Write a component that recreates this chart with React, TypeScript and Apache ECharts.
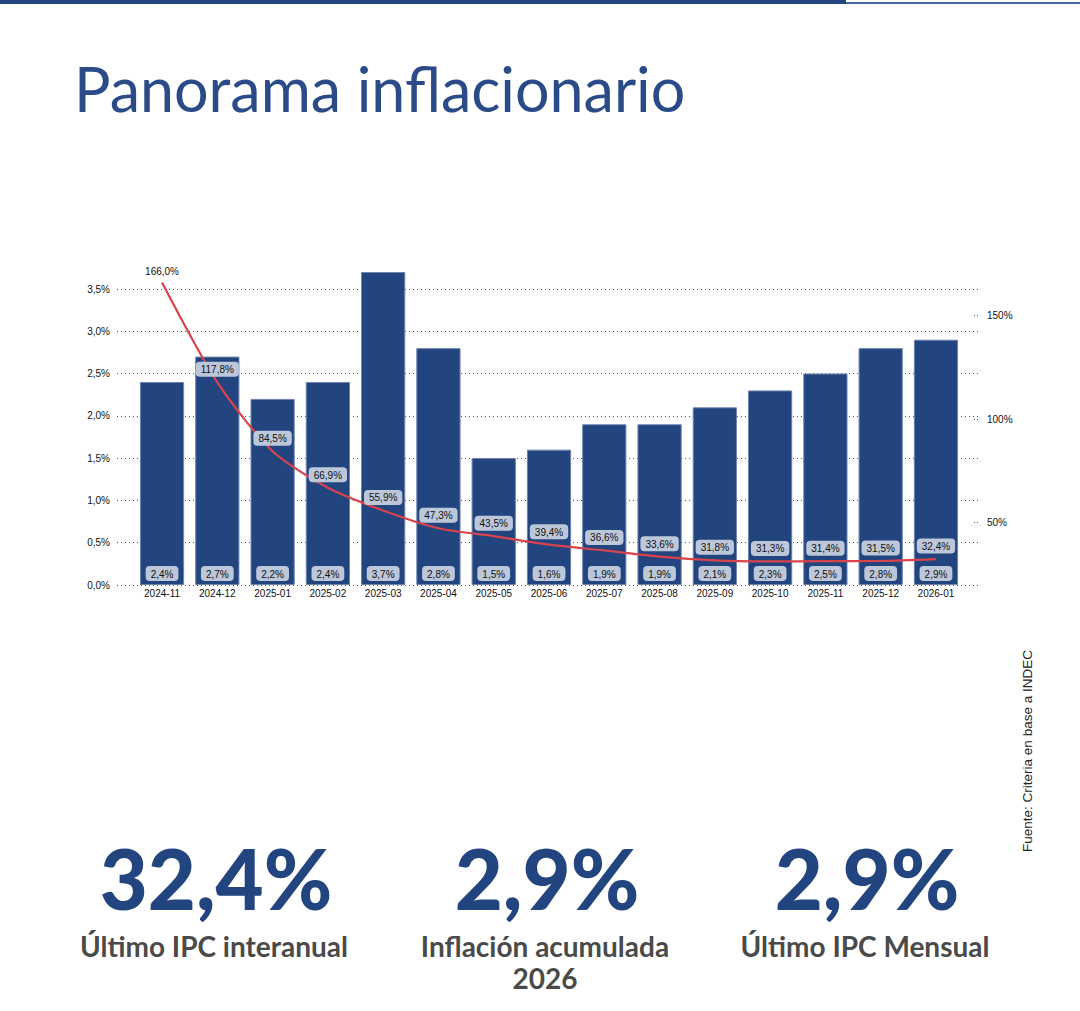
import React, { useEffect, useRef } from "react";
import * as echarts from "echarts";

const months = ["2024-11", "2024-12", "2025-01", "2025-02", "2025-03", "2025-04", "2025-05", "2025-06", "2025-07", "2025-08", "2025-09", "2025-10", "2025-11", "2025-12", "2026-01"];
const monthly = [2.4, 2.7, 2.2, 2.4, 3.7, 2.8, 1.5, 1.6, 1.9, 1.9, 2.1, 2.3, 2.5, 2.8, 2.9];
const interanual = [166.0, 117.8, 84.5, 66.9, 55.9, 47.3, 43.5, 39.4, 36.6, 33.6, 31.8, 31.3, 31.4, 31.5, 32.4];
const rightTicks = [50, 100, 150];
const kpiValues = ["32,4%", "2,9%", "2,9%"];
const kpiLabels = ["Último IPC interanual", "Inflación acumulada\n2026", "Último IPC Mensual"];

const fmt = (v: number) => v.toFixed(1).replace(".", ",") + "%";
const BLUE = "#22447f";
const CHART_FONT = "'Liberation Sans Narrow', 'Liberation Sans', Arial, sans-serif";
const BIG_FONT = "Lato, 'Open Sans', sans-serif";

export default function App() {
  const ref = useRef<HTMLDivElement>(null);
  useEffect(() => {
    const chart = echarts.init(ref.current!, null, { renderer: "svg" });
    const boxLabel = {
      backgroundColor: "#bcc7da",
      borderRadius: 4,
      padding: [3, 5, 2, 5],
      color: "#111",
      fontSize: 10,
      fontFamily: CHART_FONT,
    };
    const kpiX = [216, 547, 867];
    const graphics: any[] = [
      { type: "rect", shape: { x: 0, y: 0, width: 846, height: 4 }, style: { fill: BLUE } },
      { type: "rect", shape: { x: 846, y: 2, width: 234, height: 2 }, style: { fill: "#4a68a0" } },
      {
        type: "text", x: 74, y: 88,
        style: { text: "Panorama inflacionario", fill: "#2a4a88", font: `400 61px ${BIG_FONT}`, textVerticalAlign: "middle" },
      },
      {
        type: "text", x: 1027, y: 751, rotation: Math.PI / 2,
        style: { text: "Fuente: Criteria en base a INDEC", fill: "#222", font: "13.5px 'Liberation Sans', Arial, sans-serif", textAlign: "center", textVerticalAlign: "middle" },
      },
    ];
    kpiValues.forEach((v, i) => {
      graphics.push({
        type: "text", x: kpiX[i], y: 878,
        style: { text: v, fill: BLUE, font: `900 83px ${BIG_FONT}`, textAlign: "center", textVerticalAlign: "middle" },
      });
      graphics.push({
        type: "text", x: kpiX[i] - 2, y: 930,
        style: { text: kpiLabels[i], fill: "#4a4a4a", font: `700 28px ${BIG_FONT}`, textAlign: "center", textVerticalAlign: "top", lineHeight: 32 },
      });
    });

    chart.setOption({
      animation: false,
      grid: [
        { left: 134.4, right: 116.4, top: 272, bottom: 426 },
        { left: 117, right: 102, top: 289, bottom: 426 },
      ],
      xAxis: [
        {
          type: "category", gridIndex: 0, data: months,
          axisLine: { show: false }, axisTick: { show: false },
          axisLabel: { color: "#111", fontSize: 10, fontFamily: CHART_FONT, margin: 3 },
        },
        { type: "category", gridIndex: 1, data: months, show: false },
      ],
      yAxis: [
        { type: "value", gridIndex: 0, min: 0, max: 3.7, show: false },
        { type: "value", gridIndex: 0, min: 19.9, max: 171.1, show: false },
        {
          type: "value", gridIndex: 1, min: 0, max: 3.5, interval: 0.5,
          axisLine: { show: false }, axisTick: { show: false },
          axisLabel: { formatter: (v: number) => fmt(v), color: "#111", fontSize: 10, fontFamily: CHART_FONT, margin: 7 },
          splitLine: { show: true, lineStyle: { color: "#555", type: [1, 3], width: 1 } },
        },
        {
          type: "value", gridIndex: 1, position: "right", min: 19.9, max: 162.9,
          axisLine: { show: false },
          axisTick: { show: true, inside: true, length: 5, customValues: rightTicks, lineStyle: { color: "#555", type: [1, 2] } },
          axisLabel: { customValues: rightTicks, formatter: (v: number) => v + "%", color: "#111", fontSize: 10, fontFamily: CHART_FONT, margin: 9 },
          splitLine: { show: false },
        },
      ],
      series: [
        {
          type: "bar", xAxisIndex: 0, yAxisIndex: 0, data: monthly, barCategoryGap: "20%", z: 2,
          itemStyle: { color: BLUE, borderColor: "#6d84ae", borderWidth: 1 },
          label: { show: true, position: "insideBottom", distance: 4, formatter: (p: any) => fmt(p.value), ...boxLabel },
        },
        {
          type: "line", xAxisIndex: 0, yAxisIndex: 1, smooth: 0.25, symbol: "circle", symbolSize: 1, showSymbol: true, z: 3,
          itemStyle: { color: "rgba(0,0,0,0)" },
          lineStyle: { color: "#d9434c", width: 2.2 },
          labelLayout: { hideOverlap: false },
          data: interanual.map((v, i) =>
            i === 0
              ? { value: v, label: { backgroundColor: "transparent", padding: 0, distance: 6 } }
              : v
          ),
          label: { show: true, position: "top", distance: 5, formatter: (p: any) => fmt(p.value), ...boxLabel },
        },
      ],
      graphic: graphics,
    });
    return () => chart.dispose();
  }, []);
  return <div ref={ref} style={{ position: "fixed", left: 0, top: 0, width: 1080, height: 1011, background: "#fff" }} />;
}
